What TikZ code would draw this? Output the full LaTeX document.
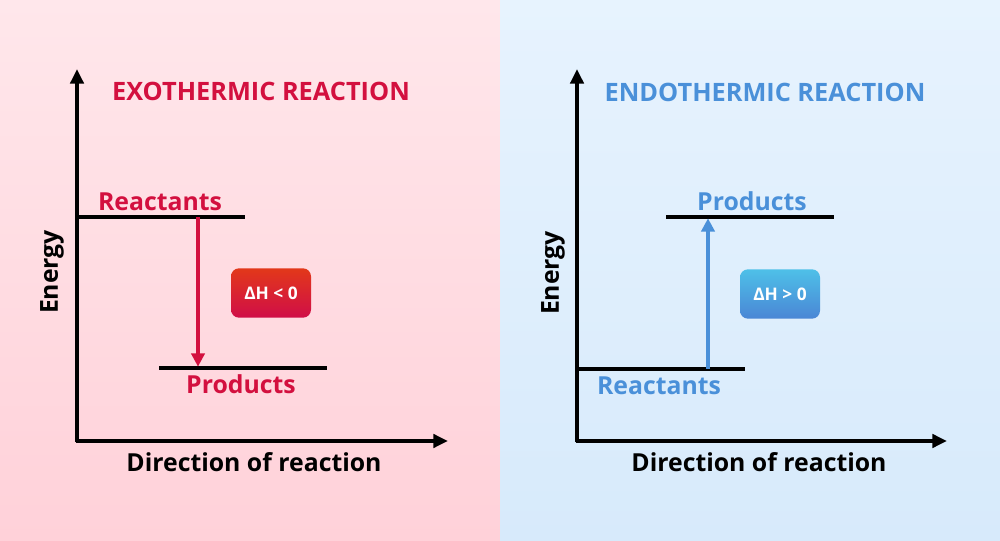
\documentclass[tikz,border=0pt]{standalone}
\usepackage{fontspec}
\setmainfont{Open Sans}
\usetikzlibrary{arrows.meta}

\definecolor{cExo}{HTML}{D3103F}
\definecolor{cEndo}{HTML}{4A90D9}
\definecolor{cPinkTop}{HTML}{FFE7EB}
\definecolor{cPinkBot}{HTML}{FFD1D9}
\definecolor{cBlueTop}{HTML}{E7F3FE}
\definecolor{cBlueBot}{HTML}{D7EAFB}
\definecolor{cExoBoxTop}{HTML}{E2381A}
\definecolor{cExoBoxBot}{HTML}{D00E48}
\definecolor{cEndoBoxTop}{HTML}{4EC0E8}
\definecolor{cEndoBoxBot}{HTML}{4A86D5}

\tikzset{
  axis/.style={line width=2.6pt,-{Triangle[length=11pt,width=10pt]}},
  level/.style={line width=2.6pt},
  change/.style={line width=2.4pt,-{Triangle[length=10pt,width=10pt]}},
  title/.style={font=\fontsize{19}{22}\selectfont\bfseries},
  lbl/.style={font=\fontsize{18.6}{22}\selectfont\bfseries},
  dhbox/.style={rounded corners=6pt,minimum width=60pt,minimum height=37pt,
    text=white,font=\fontsize{13}{15}\selectfont\bfseries}
}

\begin{document}
\begin{tikzpicture}[x=0.75pt,y=-0.75pt]
\useasboundingbox (0,0) rectangle (1000,541);

%背景
\shade[top color=cPinkTop,bottom color=cPinkBot] (0,0) rectangle (500,541);
\shade[top color=cBlueTop,bottom color=cBlueBot] (500,0) rectangle (1000,541);

%%左圖 放熱反應
\coordinate (cOPt) at (77,441);
\coordinate (cYPt) at (77,69);
\coordinate (cXPt) at (448,441);
\coordinate (cRAPt) at (77,217);
\coordinate (cRBPt) at (245,217);
\coordinate (cPAPt) at (159,368);
\coordinate (cPBPt) at (327,368);
\coordinate (cSPt) at (198,217);
\coordinate (cTPt) at (198,368);

\draw[axis] ([yshift=-1pt]cOPt) -- (cYPt);
\draw[axis] ([xshift=-1pt]cOPt) -- (cXPt);
\draw[level] (cRAPt) -- (cRBPt);
\draw[level] (cPAPt) -- (cPBPt);
\draw[change,cExo] (cSPt) -- ([yshift=1pt]cTPt);

\node[title,text=cExo] (exoTitle) at (261,91) {EXOTHERMIC REACTION};
\node[lbl,text=cExo] (exoReact) at (160,202) {Reactants};
\node[lbl,text=cExo] (exoProd) at (241,384) {Products};
\node[dhbox,top color=cExoBoxTop,bottom color=cExoBoxBot] (exoDH) at (271,293) {ΔH < 0};

%%右圖 吸熱反應
\coordinate (dOPt) at (577,441);
\coordinate (dYPt) at (577,69);
\coordinate (dXPt) at (947,441);
\coordinate (dRAPt) at (577,369);
\coordinate (dRBPt) at (745,369);
\coordinate (dPAPt) at (666,217);
\coordinate (dPBPt) at (834,217);
\coordinate (dSPt) at (708,369);
\coordinate (dTPt) at (708,217);

\draw[axis] ([yshift=-1pt]dOPt) -- (dYPt);
\draw[axis] ([xshift=-1pt]dOPt) -- (dXPt);
\draw[level] (dRAPt) -- (dRBPt);
\draw[level] (dPAPt) -- (dPBPt);
\draw[change,cEndo] (dSPt) -- ([yshift=-1pt]dTPt);

\node[title,text=cEndo] (endoTitle) at (765,92) {ENDOTHERMIC REACTION};
\node[lbl,text=cEndo] (endoProd) at (752,201) {Products};
\node[lbl,text=cEndo] (endoReact) at (659,386) {Reactants};
\node[dhbox,top color=cEndoBoxTop,bottom color=cEndoBoxBot] (endoDH) at (780,294) {ΔH > 0};

%兩軸的文字
\foreach \n/\x/\y in {exo/52/272, endo/553/273}
{
    \node[lbl,rotate=90] (\n Energy) at (\x,\y) {Energy};
};
\foreach \n/\x in {exo/254, endo/759}
{
    \node[lbl] (\n Dir) at (\x,462) {Direction of reaction};
};

\end{tikzpicture}
\end{document}
